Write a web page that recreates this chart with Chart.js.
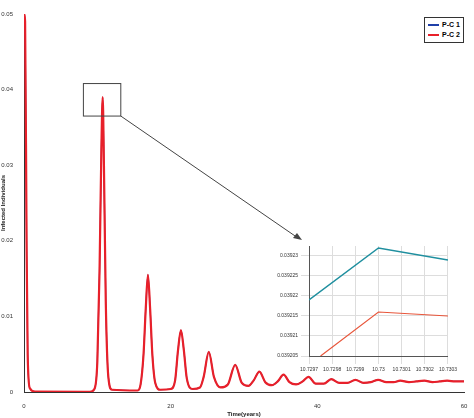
<!DOCTYPE html>
<html>
<head>
<meta charset="utf-8">
<script src="https://cdn.jsdelivr.net/npm/chart.js@4/dist/chart.umd.min.js"></script>
<style>
  body { margin: 0; background: #fff; font-family: "Liberation Sans", Arial, sans-serif; }
  #wrap { position: relative; width: 474px; height: 418px; }
  #main { position: absolute; left: 0; top: 0; }
  #inset { position: absolute; left: 276px; top: 240px; }
  #legend { position: absolute; left: 424px; top: 17px; border: 1px solid #333; background: #fff;
    font-size: 7px; font-weight: bold; padding: 2px 3px; line-height: 10px; }
  #legend span { display: inline-block; width: 11px; height: 2px; vertical-align: middle; margin-right: 3px; }
</style>
</head>
<body>
<div id="wrap">
  <canvas id="main" width="474" height="418"></canvas>
  <canvas id="inset" width="184" height="136"></canvas>
  <div id="legend">
    <div><span style="background:#1f3fa8"></span>P-C 1</div>
    <div><span style="background:#e8202a"></span>P-C 2</div>
  </div>
</div>
<script>
const times = [0, 0.15, 0.35, 0.5, 0.8, 1.5, 9, 9.6, 10.0, 10.3, 10.55, 10.73, 10.9, 11.15, 11.5, 12, 15.5,
  15.9, 16.3, 16.6, 16.9, 17.2, 17.5, 17.9, 18.6, 20, 20.6, 21.0, 21.4, 21.8, 22.2, 23, 24,
  24.5, 25.2, 25.9, 26.8, 27.8, 28.8, 29.7, 30.6, 31.3, 32.1, 32.9, 33.8, 34.6, 35.4, 36.2, 37.1,
  38.0, 38.8, 39.8, 40.9, 41.9, 43, 44.1, 45.2, 46.3, 47.3, 48.3, 49.4, 50.4, 51.3, 52.5, 53.5,
  54.6, 55.7, 56.7, 57.7, 58.8, 60];
const infected = [0.05, 0.049, 0.02, 0.005, 0.0005, 0.00005, 0.00002, 0.0004, 0.004, 0.016, 0.032, 0.039, 0.03, 0.012, 0.002, 0.0003, 0.0002,
  0.001, 0.005, 0.011, 0.0155, 0.011, 0.005, 0.0012, 0.0003, 0.0004, 0.0015, 0.0055, 0.0082, 0.0055, 0.0018, 0.0004, 0.0006,
  0.002, 0.0053, 0.002, 0.0006, 0.001, 0.0036, 0.0012, 0.0008, 0.0015, 0.0027, 0.0013, 0.0009, 0.0014, 0.0023, 0.0013, 0.001,
  0.0014, 0.002, 0.0011, 0.0011, 0.0017, 0.0012, 0.0012, 0.0016, 0.0012, 0.0013, 0.0016, 0.0013, 0.0013, 0.0015, 0.0013, 0.0014,
  0.0015, 0.0013, 0.0014, 0.0015, 0.0014, 0.0014];
const xTicks = [0, 20, 40, 60];
const zoomBox = { x0: 8.1, x1: 13.2, y0: 0.0365, y1: 0.0408 };

const insetTimes1 = [10.7297, 10.73, 10.7303];
const insetPC1 = [0.039219, 0.039232, 0.039229];
const insetTimes2 = [10.72975, 10.73, 10.7303];
const insetPC2 = [0.039205, 0.039216, 0.039215];

function pts(xs, ys) { return xs.map((x, i) => ({ x: x, y: ys[i] })); }

const zoomPlugin = {
  id: "zoomBox",
  afterDatasetsDraw(chart) {
    const c = chart.ctx, sx = chart.scales.x, sy = chart.scales.y;
    const l = sx.getPixelForValue(zoomBox.x0), r = sx.getPixelForValue(zoomBox.x1);
    const t = sy.getPixelForValue(zoomBox.y1), b = sy.getPixelForValue(zoomBox.y0);
    c.save();
    c.strokeStyle = "#444"; c.lineWidth = 1;
    c.strokeRect(l, t, r - l, b - t);
    c.beginPath(); c.moveTo(r, b); c.lineTo(298, 238); c.stroke();
    c.beginPath(); c.moveTo(302, 240); c.lineTo(293, 238); c.lineTo(297, 233); c.closePath();
    c.fillStyle = "#444"; c.fill();
    c.restore();
  }
};

new Chart(document.getElementById("main"), {
  type: "line",
  data: {
    datasets: [
      { label: "P-C 1", data: pts(times, infected), borderColor: "#1f3fa8", borderWidth: 1.2, pointRadius: 0, cubicInterpolationMode: "monotone", order: 2 },
      { label: "P-C 2", data: pts(times, infected), borderColor: "#e8202a", borderWidth: 2.2, pointRadius: 0, cubicInterpolationMode: "monotone", order: 1 }
    ]
  },
  options: {
    responsive: false, animation: false,
    layout: { padding: { left: 0, right: 10, top: 14, bottom: 0 } },
    plugins: { legend: { display: false }, tooltip: { enabled: false } },
    scales: {
      x: {
        type: "linear", min: 0, max: 60,
        afterBuildTicks: s => { s.ticks = xTicks.map(v => ({ value: v })); },
        afterFit: s => { s.height = 26; },
        grid: { display: false, drawTicks: true },
        border: { color: "#333" },
        ticks: { font: { size: 6 }, color: "#333", maxRotation: 0 },
        title: { display: true, text: "Time(years)", font: { size: 6, weight: "bold" }, color: "#222", padding: 0 }
      },
      y: {
        min: 0, max: 0.05,
        ticks: { stepSize: 0.01, font: { size: 6 }, color: "#333" },
        afterFit: s => { s.width = 24; },
        grid: { display: false },
        border: { color: "#333" },
        title: { display: true, text: "Infected Individuals", font: { size: 6, weight: "bold" }, color: "#222", padding: 0 }
      }
    }
  },
  plugins: [zoomPlugin]
});

new Chart(document.getElementById("inset"), {
  type: "line",
  data: {
    datasets: [
      { data: pts(insetTimes1, insetPC1), borderColor: "#1f8f9f", borderWidth: 1.5, pointRadius: 0 },
      { data: pts(insetTimes2, insetPC2), borderColor: "#e8553a", borderWidth: 1.2, pointRadius: 0 }
    ]
  },
  options: {
    responsive: false, animation: false,
    layout: { padding: { left: 0, right: 6, top: 6, bottom: 0 } },
    plugins: { legend: { display: false }, tooltip: { enabled: false } },
    scales: {
      x: {
        type: "linear", min: 10.7297, max: 10.7303,
        ticks: { stepSize: 0.0001, font: { size: 5 }, color: "#333", maxRotation: 0, callback: v => Number(v.toFixed(4)) },
        grid: { color: "#ddd", drawTicks: true },
        border: { color: "#555" }
      },
      y: {
        min: 0.039205, max: 0.0392325,
        afterBuildTicks: s => { s.ticks = [0.039205, 0.03921, 0.039215, 0.03922, 0.039225, 0.03923].map(v => ({ value: v })); },
        ticks: { font: { size: 5 }, color: "#333", callback: v => Number(v.toFixed(6)) },
        afterFit: s => { s.width = 33; },
        grid: { color: "#ddd" },
        border: { color: "#555" }
      }
    }
  }
});
</script>
</body>
</html>
